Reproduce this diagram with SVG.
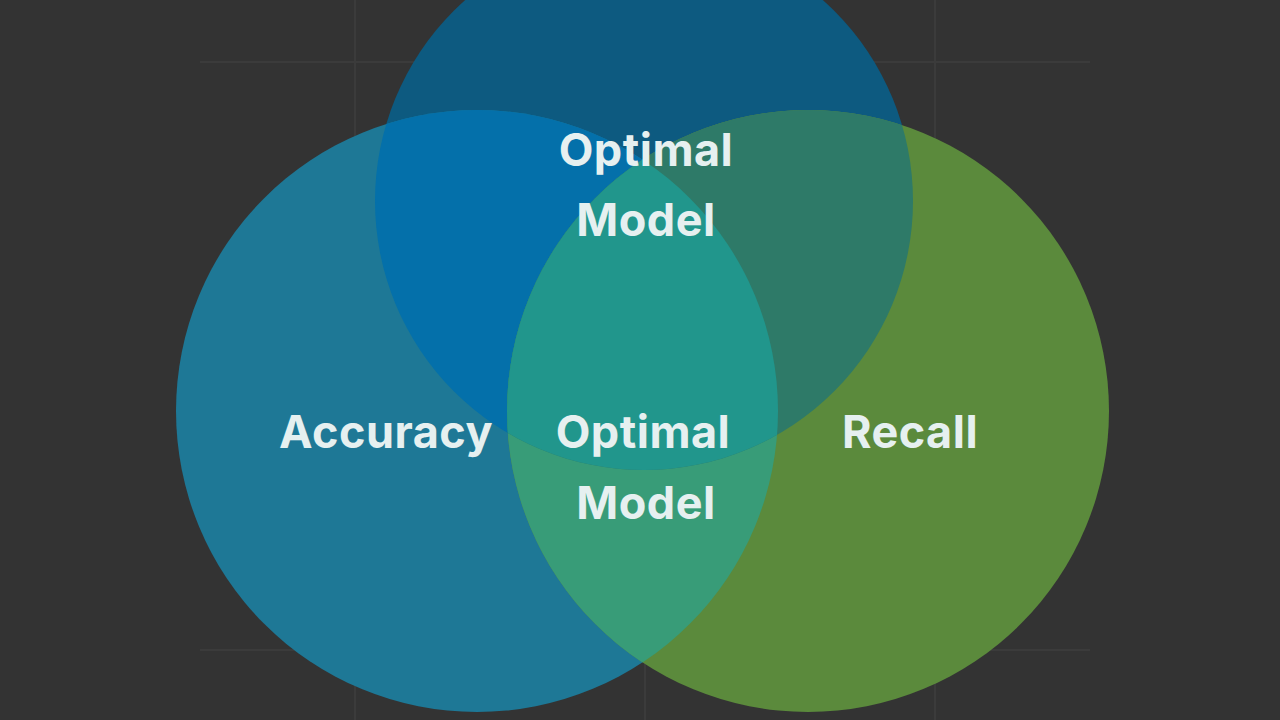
<svg xmlns="http://www.w3.org/2000/svg" width="1280" height="720" viewBox="0 0 1280 720">
<style>
text{font-family:Inter,"Liberation Sans",sans-serif;font-weight:700;font-size:45px;fill:#e6f0f0;text-anchor:middle}
.g{stroke:#3b3b3b;stroke-width:2}
</style>
<defs>
<clipPath id="cL"><circle cx="477" cy="411" r="301"/></clipPath>
<clipPath id="cR"><circle cx="808" cy="411" r="301"/></clipPath>
<clipPath id="cT"><circle cx="644" cy="201" r="269"/></clipPath>
</defs>
<rect width="1280" height="720" fill="#333333"/>
<g class="g">
<line x1="355" y1="0" x2="355" y2="720"/><line x1="645" y1="0" x2="645" y2="720"/><line x1="935" y1="0" x2="935" y2="720"/>
<line x1="200" y1="62" x2="1090" y2="62"/><line x1="200" y1="650" x2="1090" y2="650"/>
</g>
<g id="top"><circle cx="644" cy="201" r="269" fill="#0d5a80"/></g>
<g id="accuracy"><circle cx="477" cy="411" r="301" fill="#1e7896"/></g>
<g id="recall"><circle cx="808" cy="411" r="301" fill="#5b8a3c"/></g>
<g id="overlaps">
<g clip-path="url(#cL)"><circle cx="644" cy="201" r="269" fill="#0470aa"/><circle cx="808" cy="411" r="301" fill="#389c78"/></g>
<g clip-path="url(#cR)"><circle cx="644" cy="201" r="269" fill="#2e7a68"/></g>
<g clip-path="url(#cL)"><g clip-path="url(#cR)"><circle cx="644" cy="201" r="269" fill="#21968c"/></g></g>
</g>
<g id="labels">
<text x="646" y="166" letter-spacing="0.5">Optimal</text>
<text x="646" y="236" letter-spacing="0.5">Model</text>
<text x="643" y="448" letter-spacing="0.5">Optimal</text>
<text x="646" y="519" letter-spacing="0.5">Model</text>
<text x="386" y="448" letter-spacing="0.5">Accuracy</text>
<text x="910" y="448" letter-spacing="0.5">Recall</text>
</g>
</svg>
